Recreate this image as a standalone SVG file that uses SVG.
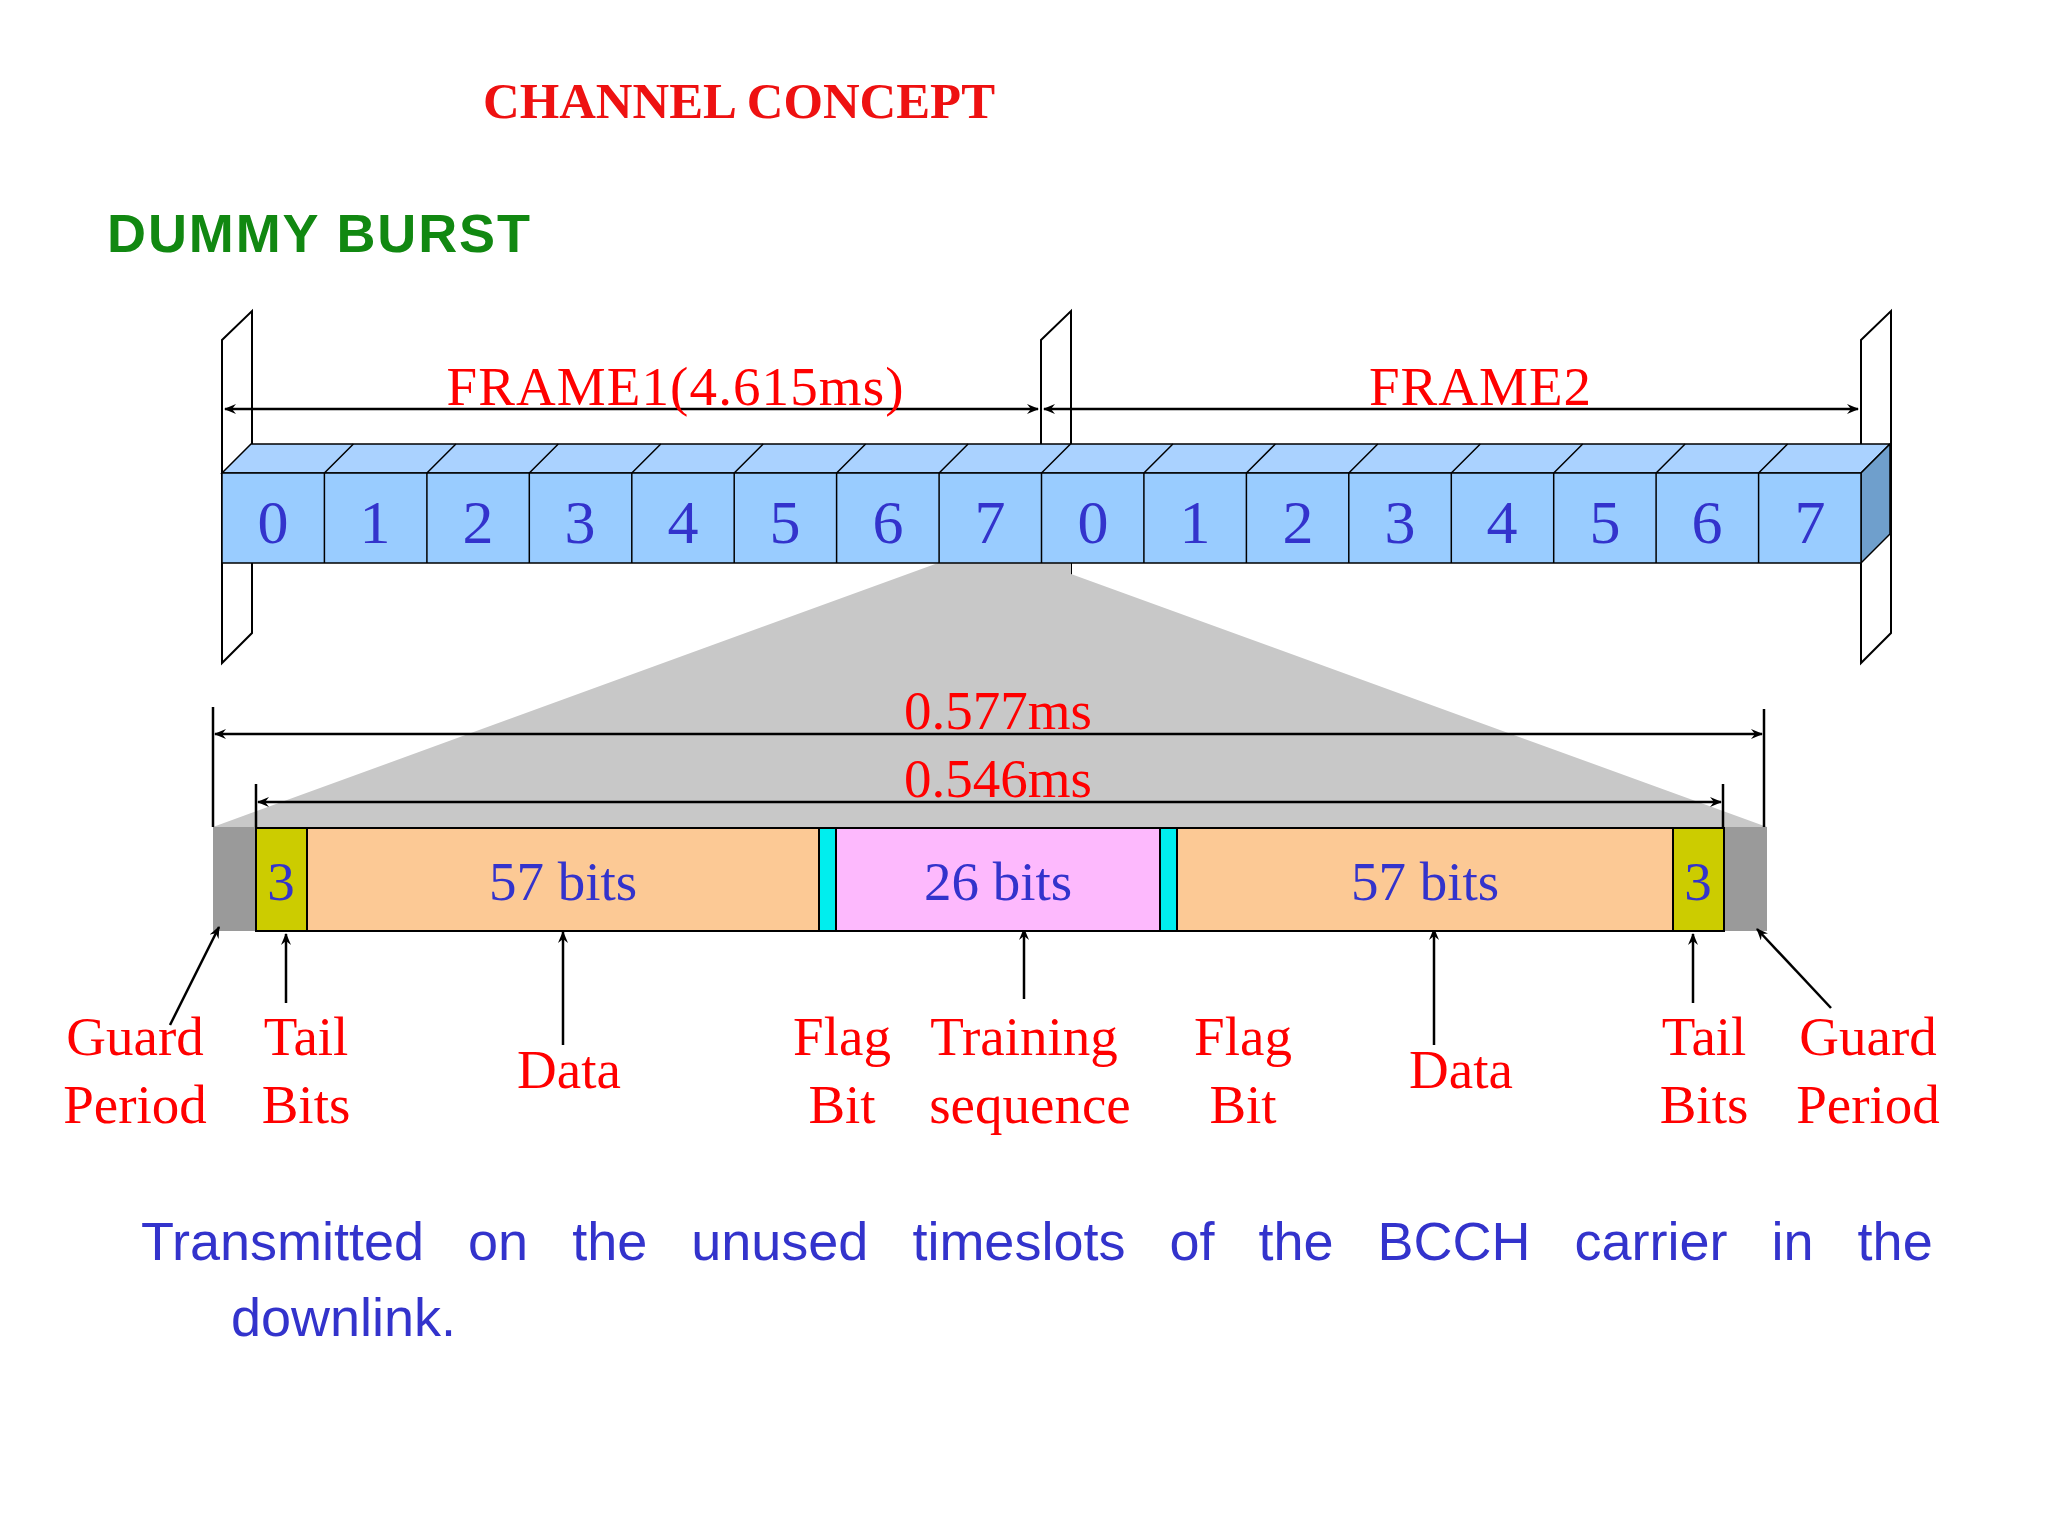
<svg xmlns="http://www.w3.org/2000/svg" width="2048" height="1536" viewBox="0 0 2048 1536">
<style>
.red{font-family:"Liberation Serif",serif;fill:#ff0000;font-size:55px;text-anchor:middle}
.blu{font-family:"Liberation Serif",serif;fill:#3333cc;font-size:55px;text-anchor:middle}
.dig{font-family:"Liberation Serif",serif;fill:#3333cc;font-size:62px;text-anchor:middle}
.ln{stroke:#000;stroke-width:2.5;fill:none}
.pl{fill:#fff;stroke:#000;stroke-width:2}
</style>
<defs>
<marker id="a" viewBox="0 0 12 10" refX="11" refY="5" markerWidth="12" markerHeight="10" markerUnits="userSpaceOnUse" orient="auto-start-reverse"><path d="M0,0 L12,5 L0,10 L4,5z" fill="#000"/></marker>
</defs>
<rect width="2048" height="1536" fill="#fff"/>
<text x="739" y="118" font-family="Liberation Serif,serif" font-weight="bold" font-size="50" fill="#ee1111" text-anchor="middle" textLength="512" lengthAdjust="spacingAndGlyphs">CHANNEL CONCEPT</text>
<text x="107" y="252" font-family="Liberation Sans,sans-serif" font-weight="bold" font-size="54" fill="#118811" textLength="423">DUMMY BURST</text>

<g id="planes-back">
<polygon class="pl" points="222,340 252,311 252,633 222,663"/>
<polygon class="pl" points="1041,340 1071,311 1071,633 1041,663"/>
<polygon class="pl" points="1861,340 1891,311 1891,633 1861,663"/>
</g>

<g id="gray">
<polygon points="938,563 1071,563 1071,574 1767,827 213,827" fill="#c8c8c8"/>
<rect x="213" y="827" width="43" height="104" fill="#9a9a9a"/>
<rect x="1724" y="827" width="43" height="104" fill="#9a9a9a"/>
</g>

<g id="frames">
<polygon points="222,473 251,444 1890,444 1861,473" fill="#aad2ff" stroke="#000" stroke-width="1.5"/>
<polygon points="1861,473 1890,444 1890,534 1861,563" fill="#6f9fcc" stroke="#000" stroke-width="1.5"/>
<rect x="222" y="473" width="1639" height="90" fill="#99ccff" stroke="#000" stroke-width="1.5"/>
<g stroke="#000" stroke-width="1.5">
<path d="M324.4,473v90M426.9,473v90M529.3,473v90M631.8,473v90M734.2,473v90M836.6,473v90M939.1,473v90M1041.5,473v90M1143.9,473v90M1246.4,473v90M1348.8,473v90M1451.3,473v90M1553.7,473v90M1656.1,473v90M1758.6,473v90"/>
<path d="M324.4,473l29,-29M426.9,473l29,-29M529.3,473l29,-29M631.8,473l29,-29M734.2,473l29,-29M836.6,473l29,-29M939.1,473l29,-29M1041.5,473l29,-29M1143.9,473l29,-29M1246.4,473l29,-29M1348.8,473l29,-29M1451.3,473l29,-29M1553.7,473l29,-29M1656.1,473l29,-29M1758.6,473l29,-29"/>
</g>
<g class="dig">
<text x="273" y="543">0</text><text x="375" y="543">1</text><text x="478" y="543">2</text><text x="580" y="543">3</text><text x="683" y="543">4</text><text x="785" y="543">5</text><text x="888" y="543">6</text><text x="990" y="543">7</text>
<text x="1093" y="543">0</text><text x="1195" y="543">1</text><text x="1298" y="543">2</text><text x="1400" y="543">3</text><text x="1502" y="543">4</text><text x="1605" y="543">5</text><text x="1707" y="543">6</text><text x="1810" y="543">7</text>
</g>
</g>

<g id="connectors">
<line class="ln" x1="225" y1="409" x2="1038" y2="409" marker-start="url(#a)" marker-end="url(#a)"/>
<line class="ln" x1="1044" y1="409" x2="1858" y2="409" marker-start="url(#a)" marker-end="url(#a)"/>
<line class="ln" x1="213" y1="707" x2="213" y2="827"/>
<line class="ln" x1="1764" y1="709" x2="1764" y2="827"/>
<line class="ln" x1="256" y1="784" x2="256" y2="827"/>
<line class="ln" x1="1723" y1="784" x2="1723" y2="827"/>
<line class="ln" x1="215" y1="734" x2="1762" y2="734" marker-start="url(#a)" marker-end="url(#a)"/>
<line class="ln" x1="258" y1="802" x2="1721" y2="802" marker-start="url(#a)" marker-end="url(#a)"/>
<line class="ln" x1="170" y1="1025" x2="219" y2="927" marker-end="url(#a)"/>
<line class="ln" x1="286" y1="1003" x2="286" y2="934" marker-end="url(#a)"/>
<line class="ln" x1="563" y1="1045" x2="563" y2="932" marker-end="url(#a)"/>
<line class="ln" x1="1024" y1="999" x2="1024" y2="929" marker-end="url(#a)"/>
<line class="ln" x1="1434" y1="1045" x2="1434" y2="929" marker-end="url(#a)"/>
<line class="ln" x1="1693" y1="1003" x2="1693" y2="934" marker-end="url(#a)"/>
<line class="ln" x1="1831" y1="1008" x2="1757" y2="929" marker-end="url(#a)"/>
</g>

<g id="burst" stroke="#000" stroke-width="2">
<rect x="256" y="828" width="51" height="103" fill="#cccc00"/>
<rect x="307" y="828" width="512" height="103" fill="#fcc995"/>
<rect x="819" y="828" width="17" height="103" fill="#00eeee"/>
<rect x="836" y="828" width="324" height="103" fill="#fdb9fd"/>
<rect x="1160" y="828" width="17" height="103" fill="#00eeee"/>
<rect x="1177" y="828" width="496" height="103" fill="#fcc995"/>
<rect x="1673" y="828" width="51" height="103" fill="#cccc00"/>
</g>
<g class="blu">
<text x="281" y="900">3</text><text x="563" y="900">57 bits</text><text x="998" y="900">26 bits</text><text x="1425" y="900">57 bits</text><text x="1698" y="900">3</text>
</g>

<g class="red">
<text x="675" y="405" textLength="457">FRAME1(4.615ms)</text>
<text x="1480" y="405" textLength="222">FRAME2</text>
<text x="998" y="729">0.577ms</text>
<text x="998" y="797">0.546ms</text>
<text x="135" y="1055">Guard</text><text x="135" y="1123">Period</text>
<text x="306" y="1055">Tail</text><text x="306" y="1123">Bits</text>
<text x="569" y="1088">Data</text>
<text x="842" y="1055">Flag</text><text x="842" y="1123">Bit</text>
<text x="1024" y="1055">Training</text><text x="1030" y="1123">sequence</text>
<text x="1243" y="1055">Flag</text><text x="1243" y="1123">Bit</text>
<text x="1461" y="1088">Data</text>
<text x="1704" y="1055">Tail</text><text x="1704" y="1123">Bits</text>
<text x="1868" y="1055">Guard</text><text x="1868" y="1123">Period</text>
</g>

<g font-family="Liberation Sans,sans-serif" font-size="54" fill="#3333cc">
<text x="141" y="1260" word-spacing="29">Transmitted on the unused timeslots of the BCCH carrier in the</text>
<text x="231" y="1336">downlink.</text>
</g>
</svg>
